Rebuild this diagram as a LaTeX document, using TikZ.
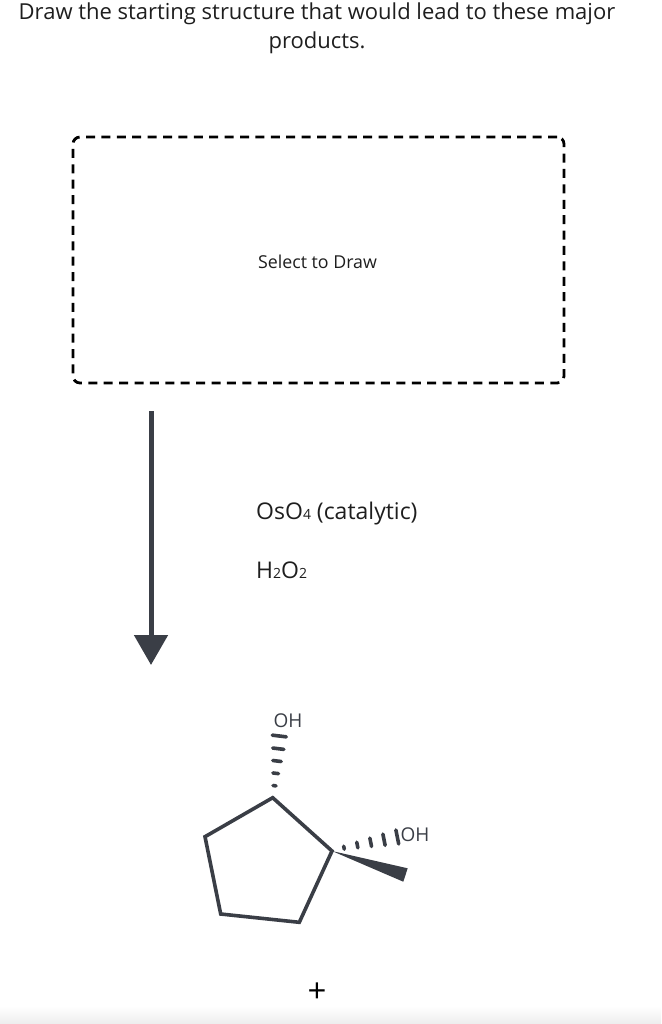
\documentclass[tikz,border=0pt]{standalone}
\usepackage{fontspec}
\usepackage{xcolor}
\setmainfont{Open Sans}
\usetikzlibrary{arrows.meta}

\begin{document}
\begin{tikzpicture}[x=1pt,y=-1pt,>={Triangle[length=30pt,width=33pt]}]

\definecolor{bondgrey}{RGB}{58, 62, 70}
\definecolor{textdark}{RGB}{30, 30, 30}

\tikzset{
    caption/.style={
        text=textdark, font=\fontsize{22}{29}\selectfont, align=center, inner sep=0pt
    },
    reagent/.style={
        text=textdark, font=\fontsize{23}{27}\selectfont, anchor=west, inner sep=0pt
    },
    atomlabel/.style={
        text=bondgrey, font=\fontsize{19}{22}\selectfont, inner sep=0pt
    },
    bond/.style={
        draw=bondgrey, line width=3.6pt, line join=miter
    },
    hashbar/.style={
        draw=bondgrey, line width=3.6pt, line cap=round
    }
}

\newcommand{\smallsub}[1]{{\fontsize{14}{14}\selectfont #1}}

% Page size
\useasboundingbox (0,0) rectangle (661,1024);

% Grey fade along the lower edge
\shade[top color=white, bottom color=black!7] (0,1006) rectangle (661,1024);

% Title
\node[caption] (title) at (317,28.5) {Draw the starting structure that would lead to these major\\products.};

% Drawing area
\node[draw=black, line width=2.8pt, dash pattern=on 9pt off 6.4pt, rounded corners=7pt,
      minimum width=491pt, minimum height=246pt] (drawbox) at (318.5,260) {};
\node[font=\fontsize{17.8}{20}\selectfont, text=textdark, inner sep=0pt] (drawlabel) at (317.5,262) {Select to Draw};

% Reaction arrow
\coordinate (arrowtop) at (151,411);
\coordinate (arrowend) at (151,665);
\draw[->, draw=bondgrey, fill=bondgrey, line width=5pt] (arrowtop) -- (arrowend);

% Reagents
\node[reagent] (oso) at (256,513.5) {OsO\smallsub{4} (catalytic)};
\node[reagent] (hoo) at (256,570.5) {H\smallsub{2}O\smallsub{2}};

% Product ring
\coordinate (c1) at (272.7,797.7);
\coordinate (c2) at (332,851);
\coordinate (c3) at (299.3,922.3);
\coordinate (c4) at (220.7,914);
\coordinate (c5) at (205,836.7);
\draw[bond] (c1) -- (c2) -- (c3) -- (c4) -- (c5) -- cycle;

% Wedge
\coordinate (w1) at (407.7,868.3);
\coordinate (w2) at (403.3,881.7);
\fill[bondgrey] (c2) -- (w1) -- (w2) -- cycle;

% Hashed bonds
\foreach \xa/\ya/\hl in {274.5/785.7/1.5, 275.7/773.3/2.8, 277/761/4.2, 278.3/748.7/5.6, 279.3/736/7}
    \draw[hashbar] ([shift={(-\hl,-0.12*\hl)}]\xa,\ya) -- ([shift={(\hl,0.12*\hl)}]\xa,\ya);
\foreach \xa/\ya/\hl in {344/847.7/1.5, 357.3/845/2.8, 370.7/842.3/4.2, 384/839.7/5.6, 397.3/837/7}
    \draw[hashbar] ([shift={(-0.2*\hl,-\hl)}]\xa,\ya) -- ([shift={(0.2*\hl,\hl)}]\xa,\ya);

% Atom labels
\node[atomlabel] (oh1) at (288,721) {OH};
\node[atomlabel] (oh2) at (415,835) {OH};

% Plus sign
\node[font=\fontsize{33}{33}\selectfont, text=black, inner sep=0pt] (plus) at (317,993) {+};

\end{tikzpicture}
\end{document}
